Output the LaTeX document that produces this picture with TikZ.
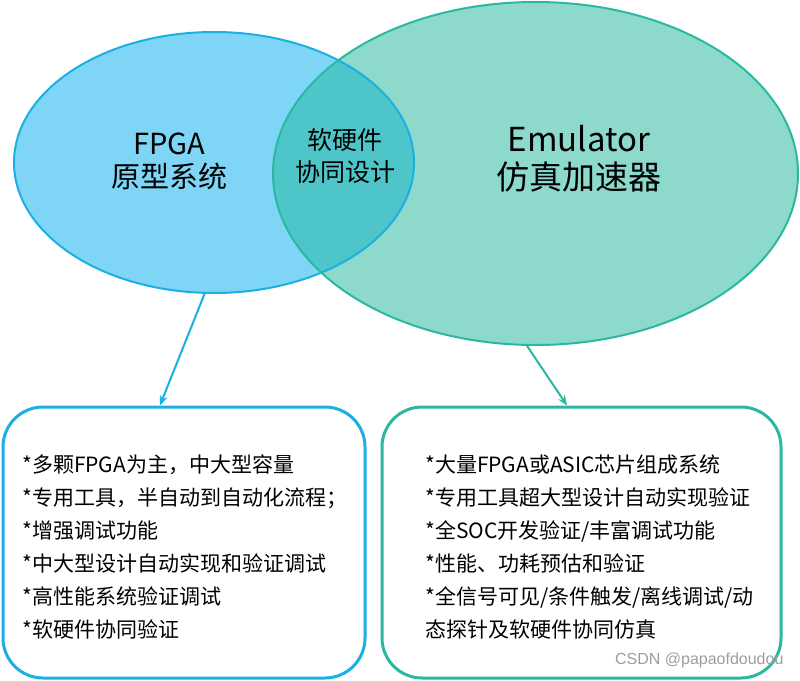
\documentclass[tikz,border=0pt]{standalone}
\usepackage{fontspec}
\setmainfont{Noto Sans CJK SC}
\newfontfamily\markfont{Liberation Sans}
\usetikzlibrary{calc,shapes.geometric,arrows.meta}
\definecolor{fpgablue}{HTML}{7FD5F5}
\definecolor{fpgaline}{HTML}{1BAFE3}
\definecolor{emugreen}{HTML}{8DDACC}
\definecolor{emuline}{HTML}{2CB8A0}
\definecolor{bothfill}{HTML}{4EC6C9}
\tikzset{
  fpgaell/.style={ellipse, inner sep=0pt, fill=fpgablue, minimum width=400pt, minimum height=261pt},
  emuell/.style={ellipse, inner sep=0pt, fill=emugreen, minimum width=525pt, minimum height=343pt},
  infobox/.style={rectangle, rounded corners=40pt, line width=3pt, fill=white, minimum height=271pt},
  infotext/.style={anchor=north west, inner sep=0pt, align=left, font=\fontsize{21}{33}\selectfont},
  flow/.style={line width=2pt, -{Stealth[length=10pt,width=8pt]}}
}

\begin{document}
\begin{tikzpicture}[x=1pt,y=-1pt]
  %%%%% START %%%%%
  \useasboundingbox[fill=white] (0,0) rectangle (800,680);

  \node[fpgaell] (fpga) at (214,162.5) {};
  \node[emuell] (emu) at (535.5,173.5) {};
  \begin{scope}
    \clip (fpga.center) ellipse [x radius=200pt, y radius=130.5pt];
    \fill[bothfill] (emu.center) ellipse [x radius=262.5pt, y radius=171.5pt];
  \end{scope}
  \draw[fpgaline, line width=2pt] (fpga.center) ellipse [x radius=200pt, y radius=130.5pt];
  \draw[emuline, line width=2pt] (emu.center) ellipse [x radius=262.5pt, y radius=171.5pt];

  \node[font=\fontsize{29}{33}\selectfont, align=center] (fpgatxt) at (169,161) {FPGA\\原型系统};
  \node[font=\fontsize{25}{32}\selectfont, align=center] (bothtxt) at (345,156) {软硬件\\协同设计};
  \node[font=\fontsize{33}{38}\selectfont, align=center] (emutxt) at (579,159) {Emulator\\仿真加速器};

  \node[infobox, draw=fpgaline, minimum width=362pt] (lbox) at (184,542.5) {};
  \node[infobox, draw=emuline, minimum width=399pt] (rbox) at (581.5,542.5) {};

  \node[infotext] (ltxt) at (22,455) {*多颗FPGA为主，中大型容量\\*专用工具，半自动到自动化流程；\\*增强调试功能\\*中大型设计自动实现和验证调试\\*高性能系统验证调试\\*软硬件协同验证};
  \node[infotext] (rtxt) at (425,455) {*大量FPGA或ASIC芯片组成系统\\*专用工具超大型设计自动实现验证\\*全SOC开发验证/丰富调试功能\\*性能、功耗预估和验证\\*全信号可见/条件触发/离线调试/动\\态探针及软硬件协同仿真};

  \draw[flow, fpgaline] (fpga.266) -- ($(lbox.north west)!0.434!(lbox.north east)$);
  \draw[flow, emuline] (emu.267.5) -- ($(rbox.north west)!0.464!(rbox.north east)$);

  \node[font=\markfont\fontsize{16}{16}\selectfont, text=black!38, anchor=east] (mark) at (787,660) {CSDN @papaofdoudou};
  %%%%% END %%%%%
\end{tikzpicture}
\end{document}
